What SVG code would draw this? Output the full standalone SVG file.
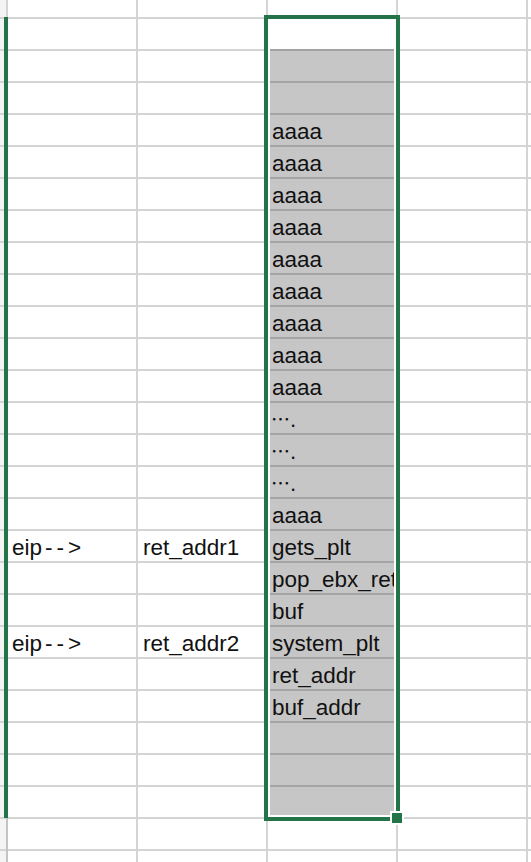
<svg xmlns="http://www.w3.org/2000/svg" width="531" height="862" viewBox="0 0 531 862">
<defs>
<style>
.grid{stroke:#d4d4d4;stroke-width:2;fill:none}
.sep{stroke:#a4a4a4;stroke-width:2;fill:none}
.t{font-family:"Liberation Sans",Arial,sans-serif;font-size:22.5px;fill:#111}
.e{font-family:"Noto Sans CJK SC","Noto Sans CJK JP",sans-serif;font-size:19px}
.ar{letter-spacing:4px}
</style>
<clipPath id="cc"><rect x="270" y="17" width="124" height="800"/></clipPath>
</defs>
<rect x="0" y="0" width="531" height="862" fill="#ffffff"/>
<rect x="0" y="0" width="6" height="862" fill="#f4f4f4"/>
<g id="grid">
<path class="grid" d="M0 18H531M0 50H531M0 82H531M0 114H531M0 146H531M0 178H531M0 210H531M0 242H531M0 274H531M0 306H531M0 338H531M0 370H531M0 402H531M0 434H531M0 466H531M0 498H531M0 530H531M0 562H531M0 594H531M0 626H531M0 658H531M0 690H531M0 722H531M0 754H531M0 786H531M0 818H531M0 850H531"/>
<path class="grid" d="M7 0V862M137 0V862M267 0V862M397 0V862M527 0V862"/>
<path d="M7 818V862" stroke="#c4c4c4" stroke-width="2"/>
</g>
<g id="selection">
<rect x="268" y="19" width="128" height="798" fill="#ffffff"/>
<rect x="270" y="49" width="124" height="766" fill="#c6c6c6"/>
<path class="sep" d="M270 50H394M270 82H394M270 114H394M270 146H394M270 178H394M270 210H394M270 242H394M270 274H394M270 306H394M270 338H394M270 370H394M270 402H394M270 434H394M270 466H394M270 498H394M270 530H394M270 562H394M270 594H394M270 626H394M270 658H394M270 690H394M270 722H394M270 754H394M270 786H394"/>
<rect x="266" y="17" width="132" height="802" fill="none" stroke="#24744a" stroke-width="4"/>
<rect x="4" y="17" width="4" height="801" fill="#24744a"/>
<rect x="390" y="811" width="14" height="14" fill="#ffffff"/>
<rect x="392" y="813" width="10" height="10" fill="#24744a"/>
</g>
<g id="colA">
<text class="t" x="12" y="555">eip<tspan class="ar" dx="3">--&gt;</tspan></text>
<text class="t" x="12" y="651">eip<tspan class="ar" dx="3">--&gt;</tspan></text>
</g>
<g id="colB">
<text class="t" x="143" y="555">ret_addr1</text>
<text class="t" x="143" y="651">ret_addr2</text>
</g>
<g id="stack" clip-path="url(#cc)">
<text class="t" x="272" y="139">aaaa</text>
<text class="t" x="272" y="171">aaaa</text>
<text class="t" x="272" y="203">aaaa</text>
<text class="t" x="272" y="235">aaaa</text>
<text class="t" x="272" y="267">aaaa</text>
<text class="t" x="272" y="299">aaaa</text>
<text class="t" x="272" y="331">aaaa</text>
<text class="t" x="272" y="363">aaaa</text>
<text class="t" x="272" y="395">aaaa</text>
<text class="t" x="271" y="427"><tspan class="e">…</tspan>.</text>
<text class="t" x="271" y="459"><tspan class="e">…</tspan>.</text>
<text class="t" x="271" y="491"><tspan class="e">…</tspan>.</text>
<text class="t" x="272" y="523">aaaa</text>
<text class="t" x="272" y="555">gets_plt</text>
<text class="t" x="272" y="587">pop_ebx_ret</text>
<text class="t" x="272" y="619">buf</text>
<text class="t" x="272" y="651">system_plt</text>
<text class="t" x="272" y="683">ret_addr</text>
<text class="t" x="272" y="715">buf_addr</text>
</g>
</svg>
